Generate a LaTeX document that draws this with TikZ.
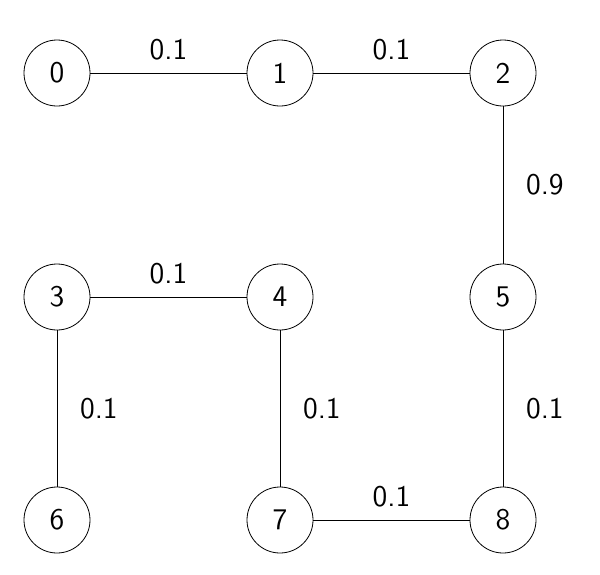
\documentclass[tikz,border=0pt]{standalone}
\begin{document}
\begin{tikzpicture}[x=0.5pt,y=-0.5pt,
  vert/.style={circle,draw,minimum size=33pt,inner sep=0pt,font=\sffamily\fontsize{15}{18}\selectfont},
  wl/.style={font=\sffamily\fontsize{15}{18}\selectfont}]
\useasboundingbox (0,0) rectangle (600,574);
\node[vert] (n0) at (57,73) {0};
\node[vert] (n1) at (280,73) {1};
\node[vert] (n2) at (503,73) {2};
\node[vert] (n3) at (57,297) {3};
\node[vert] (n4) at (280,297) {4};
\node[vert] (n5) at (503,297) {5};
\node[vert] (n6) at (57,520) {6};
\node[vert] (n7) at (280,520) {7};
\node[vert] (n8) at (503,520) {8};
\draw (n0) -- node[wl,above=3pt] {0.1} (n1);
\draw (n1) -- node[wl,above=3pt] {0.1} (n2);
\draw (n2) -- node[wl,right=8pt] {0.9} (n5);
\draw (n3) -- node[wl,above=3pt] {0.1} (n4);
\draw (n3) -- node[wl,right=8pt] {0.1} (n6);
\draw (n4) -- node[wl,right=8pt] {0.1} (n7);
\draw (n5) -- node[wl,right=8pt] {0.1} (n8);
\draw (n7) -- node[wl,above=3pt] {0.1} (n8);
\end{tikzpicture}
\end{document}
